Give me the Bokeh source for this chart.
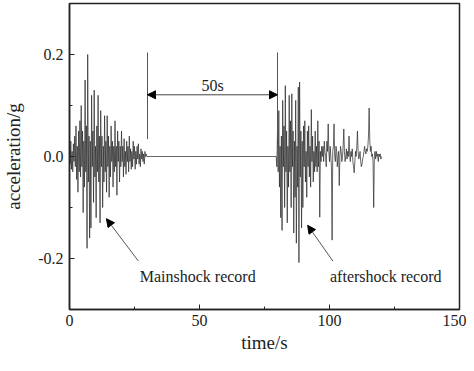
import numpy as np
from bokeh.plotting import figure
from bokeh.models import FixedTicker, NumeralTickFormatter, Arrow, NormalHead, Label, Range1d
from bokeh.embed import file_html
from bokeh.resources import INLINE

# ---- data -------------------------------------------------------------
dt = 0.25                      # sampling step of the digitised records (s)
main_start = 0.0               # mainshock record start time (s)
main_acc = [
    0.02, -0.015, 0.03, -0.025, 0.01, -0.03, 0.025, -0.01,
    0.04, -0.02, 0.06, -0.045, 0.02, -0.07, 0.05, -0.03,
    0.07, -0.04, 0.10, -0.02, 0.05, -0.11, 0.03, -0.06,
    0.15, -0.03, 0.06, -0.18, 0.20, -0.05, 0.04, -0.16,
    0.03, -0.14, 0.12, -0.02, 0.05, -0.09, 0.13, -0.04,
    0.02, -0.12, 0.06, -0.03, 0.12, -0.05, 0.04, -0.13,
    0.09, -0.02, 0.04, -0.10, 0.02, -0.05, 0.08, -0.03,
    0.03, -0.07, 0.08, -0.02, 0.04, -0.08, 0.02, -0.04,
    0.06, -0.01, 0.03, -0.06, 0.02, -0.03, 0.07, -0.02,
    0.02, -0.076, 0.05, -0.01, 0.03, -0.05, 0.02, -0.02,
    0.05, -0.01, 0.02, -0.04, 0.035, -0.02, 0.01, -0.035,
    0.03, -0.01, 0.02, -0.03, 0.04, -0.01, 0.015, -0.025,
    0.01, -0.02, 0.03, -0.005, 0.02, -0.025, 0.01, -0.015,
    0.02, -0.005, 0.025, -0.015, 0.005, -0.02, 0.015, -0.005,
    0.01, -0.01, 0.005, -0.015, 0.01, 0.0, 0.005, 0.0,
]
after_start = 79.5             # aftershock record start time (s)
after_acc = [
    0.0, -0.02, 0.05, -0.03, 0.09, -0.06, 0.02, -0.12,
    0.04, -0.145, 0.11, -0.02, 0.06, -0.10, 0.139, -0.03,
    0.05, -0.13, 0.02, -0.06, 0.12, -0.03, 0.07, -0.10,
    0.123, -0.02, 0.05, -0.15, 0.03, -0.08, 0.11, -0.17,
    0.02, -0.06, 0.136, -0.208, 0.146, -0.04, 0.05, -0.14,
    0.03, -0.10, 0.06, -0.02, 0.07, -0.05, 0.01, -0.08,
    0.05, -0.02, 0.06, -0.04, 0.02, -0.06, 0.092, -0.01,
    0.04, -0.05, 0.01, -0.03, 0.05, -0.02, 0.02, -0.03,
    0.07, -0.02, 0.03, -0.119, 0.01, -0.01, 0.02, 0.0,
    0.02, -0.01, 0.03, 0.01, 0.0, -0.02, 0.03, 0.01,
    0.064, 0.01, -0.01, 0.02, 0.0, -0.02, -0.164, 0.01,
    0.02, 0.064, 0.0, -0.01, 0.02, 0.01, -0.02, 0.0,
    0.01, -0.057, 0.0, 0.02, 0.01, -0.01, 0.0, 0.02,
    0.054, 0.01, -0.01, 0.0, 0.015, -0.005, 0.01, 0.0,
    0.04, 0.005, -0.01, 0.01, 0.0, 0.015, -0.01, -0.02,
    -0.032, -0.01, 0.01, 0.0, 0.02, 0.05, 0.01, -0.005,
    0.0, 0.01, -0.01, -0.02, -0.015, -0.005, 0.0, 0.01,
    0.02, 0.01, 0.005, 0.015, 0.01, 0.02, 0.04, 0.095,
    0.03, 0.01, 0.02, 0.0, 0.005, -0.01, -0.10, 0.0,
    0.01, -0.005, 0.01, 0.0, 0.005, -0.01, 0.005, 0.0,
    0.005, -0.005, 0.0,
]
x_ticks = [0, 50, 100, 150]
x_minor = [25, 75, 125]
y_ticks = [-0.2, 0.0, 0.2]
y_minor = [-0.1, 0.1]
gap_marks = [30, 80]           # times of the interval markers (s)
gap_mark_top = 0.204
gap_mark_bottom = 0.034
gap_arrow_y = 0.121
gap_label = "50s"
main_label = "Mainshock record"
after_label = "aftershock record"
# ----------------------------------------------------------------------

main_t = main_start + dt * np.arange(len(main_acc))
after_t = after_start + dt * np.arange(len(after_acc))
t = np.concatenate([main_t, after_t])
acc = np.concatenate([main_acc, after_acc])

FONT = "Liberation Serif"

p = figure(width=466, height=355, output_backend="svg", toolbar_location=None,
           x_range=Range1d(0, 150), y_range=Range1d(-0.3, 0.3),
           min_border_left=68, min_border_right=7, min_border_top=3,
           min_border_bottom=43)
p.background_fill_color = "white"
p.border_fill_color = "white"
p.grid.visible = False
p.outline_line_color = "#222222"
p.outline_line_width = 1.5

p.line(t, acc, line_color="#262626", line_width=0.7)

# interval markers
p.segment(x0=gap_marks, y0=[gap_mark_bottom] * 2, x1=gap_marks, y1=[gap_mark_top] * 2,
          line_color="#555555", line_width=1)
p.add_layout(Arrow(start=NormalHead(size=8, fill_color="black", line_color="black"),
                   end=NormalHead(size=8, fill_color="black", line_color="black"),
                   x_start=gap_marks[0], x_end=gap_marks[1], y_start=gap_arrow_y, y_end=gap_arrow_y,
                   line_color="#444444", line_width=1))
p.add_layout(Label(x=(gap_marks[0] + gap_marks[1]) / 2, y=gap_arrow_y, text=gap_label,
                   text_align="center", text_baseline="bottom", y_offset=1,
                   text_font=FONT, text_font_size="16px", text_color="#222222"))

# record labels with arrows
p.add_layout(Arrow(end=NormalHead(size=8, fill_color="black", line_color="black"),
                   x_start=26.5, y_start=-0.205, x_end=14.2, y_end=-0.122,
                   line_color="#555555", line_width=1))
p.add_layout(Label(x=27, y=-0.235, text=main_label, text_align="left", text_baseline="middle",
                   text_font=FONT, text_font_size="16px", text_color="#222222"))
p.add_layout(Arrow(end=NormalHead(size=8, fill_color="black", line_color="black"),
                   x_start=101.3, y_start=-0.205, x_end=91.6, y_end=-0.135,
                   line_color="#555555", line_width=1))
p.add_layout(Label(x=100.2, y=-0.235, text=after_label, text_align="left", text_baseline="middle",
                   text_font=FONT, text_font_size="16px", text_color="#222222"))

# axes
for ax in (p.xaxis[0], p.yaxis[0]):
    ax.axis_line_color = "#222222"
    ax.axis_line_width = 1.5
    ax.major_tick_in = 5
    ax.major_tick_out = 0
    ax.minor_tick_in = 3
    ax.minor_tick_out = 0
    ax.major_tick_line_color = "#222222"
    ax.minor_tick_line_color = "#222222"
    ax.major_label_text_font = FONT
    ax.major_label_text_font_size = "16px"
    ax.major_label_text_color = "#222222"
    ax.axis_label_text_font = FONT
    ax.axis_label_text_font_size = "19px"
    ax.axis_label_text_font_style = "normal"
    ax.axis_label_text_color = "#222222"

p.xaxis.ticker = FixedTicker(ticks=x_ticks, minor_ticks=x_minor)
p.yaxis.ticker = FixedTicker(ticks=y_ticks, minor_ticks=y_minor)
p.yaxis.formatter = NumeralTickFormatter(format="0.0")
p.xaxis.axis_label = "time/s"
p.yaxis.axis_label = "acceleration/g"
p.xaxis.major_label_standoff = 5
p.yaxis.major_label_standoff = 6
p.xaxis.axis_label_standoff = 3
p.yaxis.axis_label_standoff = 11

open("out.html", "w").write(file_html(p, INLINE))
